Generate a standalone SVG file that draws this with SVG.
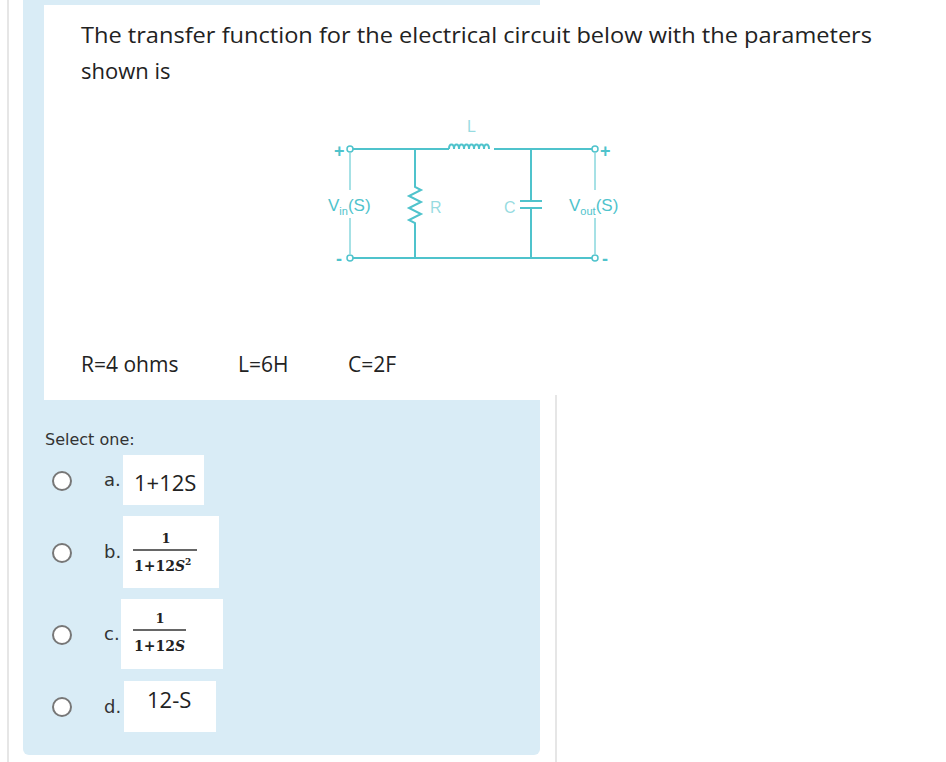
<svg xmlns="http://www.w3.org/2000/svg" width="946" height="762" viewBox="0 0 946 762">
<style>
.t{font-family:"Open Sans","DejaVu Sans",sans-serif;fill:#222}
.v{font-family:"DejaVu Sans",sans-serif;fill:#333}
.m{font-family:"DejaVu Serif",serif;fill:#222}
.w{stroke:#4fc3cc;stroke-width:2;fill:none}
.cl{font-family:"Liberation Sans",sans-serif;fill:#4fc3cc}
.r{fill:#fff;stroke:#777;stroke-width:2}
</style>
<rect width="946" height="762" fill="#fff"/>
<line x1="8" y1="0" x2="8" y2="762" stroke="#e6e6e6" stroke-width="2"/>
<line x1="556" y1="395" x2="556" y2="762" stroke="#e6e6e6" stroke-width="2"/>
<rect x="23" y="-10" width="517" height="765" rx="6" fill="#d9ecf6"/>
<rect x="44" y="5" width="496" height="395" fill="#fff"/>
<g id="question">
<text class="t" x="81" y="43" font-size="22" textLength="791" lengthAdjust="spacingAndGlyphs">The transfer function for the electrical circuit below with the parameters</text>
<text class="t" x="81" y="79" font-size="22">shown is</text>
<text class="t" x="81" y="372" font-size="21">R=4 ohms</text>
<text class="t" x="238" y="372" font-size="21">L=6H</text>
<text class="t" x="348" y="372" font-size="21">C=2F</text>
</g>
<g id="circuit">
<path class="w" d="M353 149H449 M494 149H594 M353 258H594 M415 149V187 L421 190 409 196 421 202 409 208 421 214 409 220 415 223V258 M531 149V201 M520 201H542 M520 208H542 M531 208V258"/>
<path class="w" d="M449 149c0-6 5-6 5 0c0-6 5-6 5 0 0-6 5-6 5 0 0-6 5-6 5 0 0-6 5-6 5 0 0-6 5-6 5 0 0-6 5-6 5 0 0-6 5-6 5 0"/>
<circle cx="350" cy="149" r="3" fill="#fff" stroke="#4fc3cc" stroke-width="1.5"/>
<circle cx="350" cy="258" r="3" fill="#fff" stroke="#4fc3cc" stroke-width="1.5"/>
<circle cx="595" cy="149" r="3" fill="#fff" stroke="#4fc3cc" stroke-width="1.5"/>
<circle cx="595" cy="258" r="3" fill="#fff" stroke="#4fc3cc" stroke-width="1.5"/>
<path d="M350 153V190 M350 218V254 M595 153V190 M595 218V254" stroke="#4fc3cc" stroke-width="1"/>
<text class="cl" x="334" y="157" font-size="18" font-weight="bold">+</text>
<text class="cl" x="600" y="157" font-size="18" font-weight="bold">+</text>
<text class="cl" x="336" y="265" font-size="18" font-weight="bold">-</text>
<text class="cl" x="602" y="265" font-size="18" font-weight="bold">-</text>
<text class="cl" x="328" y="211" font-size="17">V<tspan font-size="11" dy="4">in</tspan><tspan dy="-4">(S)</tspan></text>
<text class="cl" x="569" y="211" font-size="17">V<tspan font-size="11" dy="4">out</tspan><tspan dy="-4">(S)</tspan></text>
<text class="cl" x="430" y="213" font-size="16" fill-opacity="0.6">R</text>
<text class="cl" x="504" y="213" font-size="16" fill-opacity="0.6">C</text>
<text class="cl" x="467" y="132" font-size="16" fill-opacity="0.6">L</text>
</g>
<g id="options">
<text class="v" x="45" y="445" font-size="16">Select one:</text>
<circle class="r" cx="62" cy="481" r="9"/>
<circle class="r" cx="62" cy="553" r="9"/>
<circle class="r" cx="62" cy="635" r="9"/>
<circle class="r" cx="62" cy="707" r="9"/>
<text class="v" x="104" y="486" font-size="18">a.</text>
<text class="v" x="104" y="558" font-size="18">b.</text>
<text class="v" x="104" y="640" font-size="18">c.</text>
<text class="v" x="104" y="713" font-size="18">d.</text>
<rect x="123" y="455" width="81" height="50" fill="#fff"/>
<rect x="123" y="516" width="96" height="72" fill="#fff"/>
<rect x="121" y="599" width="102" height="70" fill="#fff"/>
<rect x="124" y="681" width="92" height="51" fill="#fff"/>
<text class="t" x="134" y="491" font-size="22">1+12S</text>
<text class="m" x="166" y="543" font-size="13" font-weight="bold" text-anchor="middle">1</text>
<line x1="133" y1="550" x2="197" y2="550" stroke="#333" stroke-width="1.3"/>
<text class="m" x="134" y="571" font-size="14" font-weight="bold">1+12<tspan font-style="italic">S</tspan><tspan font-size="9" dy="-6">2</tspan></text>
<text class="m" x="160" y="623" font-size="13" font-weight="bold" text-anchor="middle">1</text>
<line x1="133" y1="630" x2="186" y2="630" stroke="#333" stroke-width="1.3"/>
<text class="m" x="134" y="651" font-size="14" font-weight="bold">1+12<tspan font-style="italic">S</tspan></text>
<text class="t" x="147" y="708" font-size="22">12-S</text>
</g>
</svg>
